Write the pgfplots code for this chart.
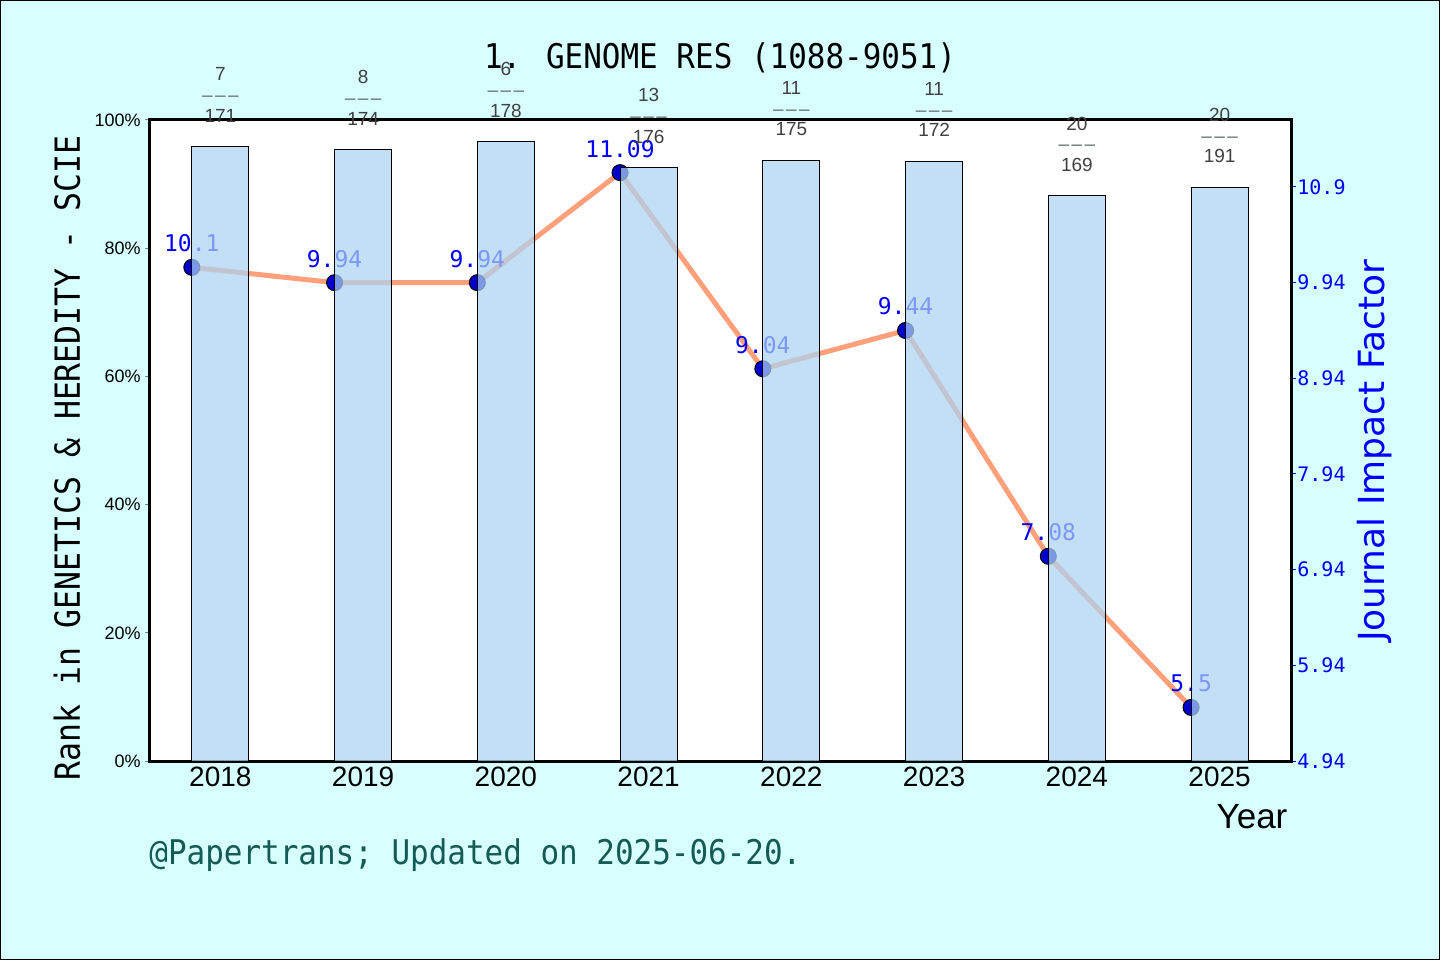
\documentclass[border=0pt]{standalone}
\usepackage{fontspec}
\usepackage{pgfplots}
\usepackage{pgfplotstable}
\pgfplotsset{compat=1.18}
\setmainfont{Liberation Sans}
\newfontfamily\gothic[FakeStretch=0.91]{DejaVu Sans Mono}
\newfontfamily\monof{DejaVu Sans Mono}
\newfontfamily\dejavu{DejaVu Sans}

\definecolor{bgcyan}{RGB}{216,255,255}
\definecolor{barblue}{RGB}{172,211,243}
\definecolor{salmon}{RGB}{255,160,122}
\definecolor{markblue}{RGB}{0,0,205}
\definecolor{rankgray}{RGB}{64,64,64}
\definecolor{dashgray}{RGB}{100,110,110}
\definecolor{footteal}{RGB}{20,90,85}

\newcommand\rdash{{\color{dashgray}\char"2013\hspace{1.2pt}\char"2013\hspace{1.2pt}\char"2013}}

% x: bar centre, lx: line point (left edge of bar)
\pgfplotstableread{
x  lx    pct    ifv    lab    rk  tot
0  -0.2  95.91  10.10  10.1   7   171
1  0.8   95.40  9.94   9.94   8   174
2  1.8   96.63  9.94   9.94   6   178
3  2.8   92.61  11.09  11.09  13  176
4  3.8   93.71  9.04   9.04   11  175
5  4.8   93.60  9.44   9.44   11  172
6  5.8   88.17  7.08   7.08   20  169
7  6.8   89.53  5.50   5.5    20  191
}\jcrdata

\begin{document}
\begin{tikzpicture}
\useasboundingbox (0,0) rectangle (720pt,480pt);
\fill[bgcyan] (0,0) rectangle (720pt,480pt);
\draw[black, line width=0.6pt] (0.3pt,0.3pt) rectangle (719.7pt,479.7pt);

% impact factor (right axis), drawn first so the bars sit over it
\begin{axis}[
    at={(74.5pt,99.5pt)}, anchor=south west,
    scale only axis, width=571pt, height=320.5pt,
    xmin=-0.5, xmax=7.5,
    ymin=4.94, ymax=11.64,
    axis background/.style={fill=white},
    axis x line=none,
    axis y line*=right,
    ytick={4.94,5.94,6.94,7.94,8.94,9.94,10.94},
    yticklabels={4.94,5.94,6.94,7.94,8.94,9.94,10.9},
    yticklabel style={font=\monof\fontsize{10}{12}\selectfont, text=blue, inner xsep=0.5pt},
    ytick style={blue, line width=0.5pt},
    tick align=outside, major tick length=2.5pt,
    ylabel={Journal Impact Factor},
    ylabel style={at={(axis description cs:1.0736,0.484)}, anchor=center,
        font=\dejavu\fontsize{18}{21}\selectfont, text=blue},
    clip=false,
]
\addplot[color=salmon, line width=2.5pt,
    mark=*, mark size=4pt,
    mark options={fill=markblue, draw=black, line width=0.5pt},
    point meta=explicit symbolic,
    nodes near coords,
    nodes near coords style={anchor=south, yshift=4pt, text=blue,
        font=\monof\fontsize{11.5}{13}\selectfont},
] table[x=lx, y=ifv, meta=lab] {\jcrdata};
\end{axis}

% rank bars (left axis)
\begin{axis}[
    at={(74.5pt,99.5pt)}, anchor=south west,
    scale only axis, width=571pt, height=320.5pt,
    xmin=-0.5, xmax=7.5,
    ymin=0, ymax=100,
    ybar, bar width=0.4,
    axis line style={line width=1.5pt},
    xtick={0,1,2,3,4,5,6,7},
    xticklabels={2018,2019,2020,2021,2022,2023,2024,2025},
    xtick style={draw=none},
    xticklabel style={font=\fontsize{14}{16}\selectfont, inner ysep=0pt, yshift=-1pt},
    extra x ticks={0.5,1.5,2.5,3.5,4.5,5.5,6.5},
    extra x tick labels={},
    extra x tick style={draw=black, line width=0.5pt, tick align=inside, major tick length=2.5pt},
    xtick pos=bottom,
    ytick={0,20,40,60,80,100},
    yticklabels={0\%,20\%,40\%,60\%,80\%,100\%},
    yticklabel style={font=\fontsize{9}{11}\selectfont, inner xsep=2pt},
    ytick pos=left,
    ytick style={line width=0.5pt},
    tick align=outside, major tick length=2pt,
    title={1. GENOME RES (1088-9051)},
    title style={at={(axis description cs:0.5,1.079)}, anchor=center,
        font=\gothic\fontsize{17}{20}\selectfont},
    ylabel={Rank in GENETICS \& HEREDITY - SCIE},
    ylabel style={at={(axis description cs:-0.0718,0.473)}, anchor=center,
        font=\gothic\fontsize{17.3}{20}\selectfont},
    xlabel={Year},
    xlabel style={at={(axis description cs:1.003,-0.087)}, anchor=east,
        font=\fontsize{17.5}{20}\selectfont},
    clip=false,
]
\addplot[fill=barblue, fill opacity=0.72, draw=black, line width=0.5pt,
    nodes near coords={\pgfmathprintnumber{\rk}\\\rdash\\\pgfmathprintnumber{\tot}},
    visualization depends on={\thisrow{rk} \as \rk},
    visualization depends on={\thisrow{tot} \as \tot},
    nodes near coords style={anchor=south, yshift=8.5pt, align=center,
        text opacity=1, text=rankgray,
        /pgf/number format/int detect,
        /pgf/number format/assume math mode=true,
        font=\fontsize{9.5}{10.35}\selectfont},
] table[x=x, y=pct] {\jcrdata};
\node[anchor=west, inner xsep=0pt, text=footteal, font=\gothic\fontsize{17}{20}\selectfont]
    at (axis description cs:0.0,-0.147) {@Papertrans; Updated on 2025-06-20.};
\end{axis}
\end{tikzpicture}
\end{document}
